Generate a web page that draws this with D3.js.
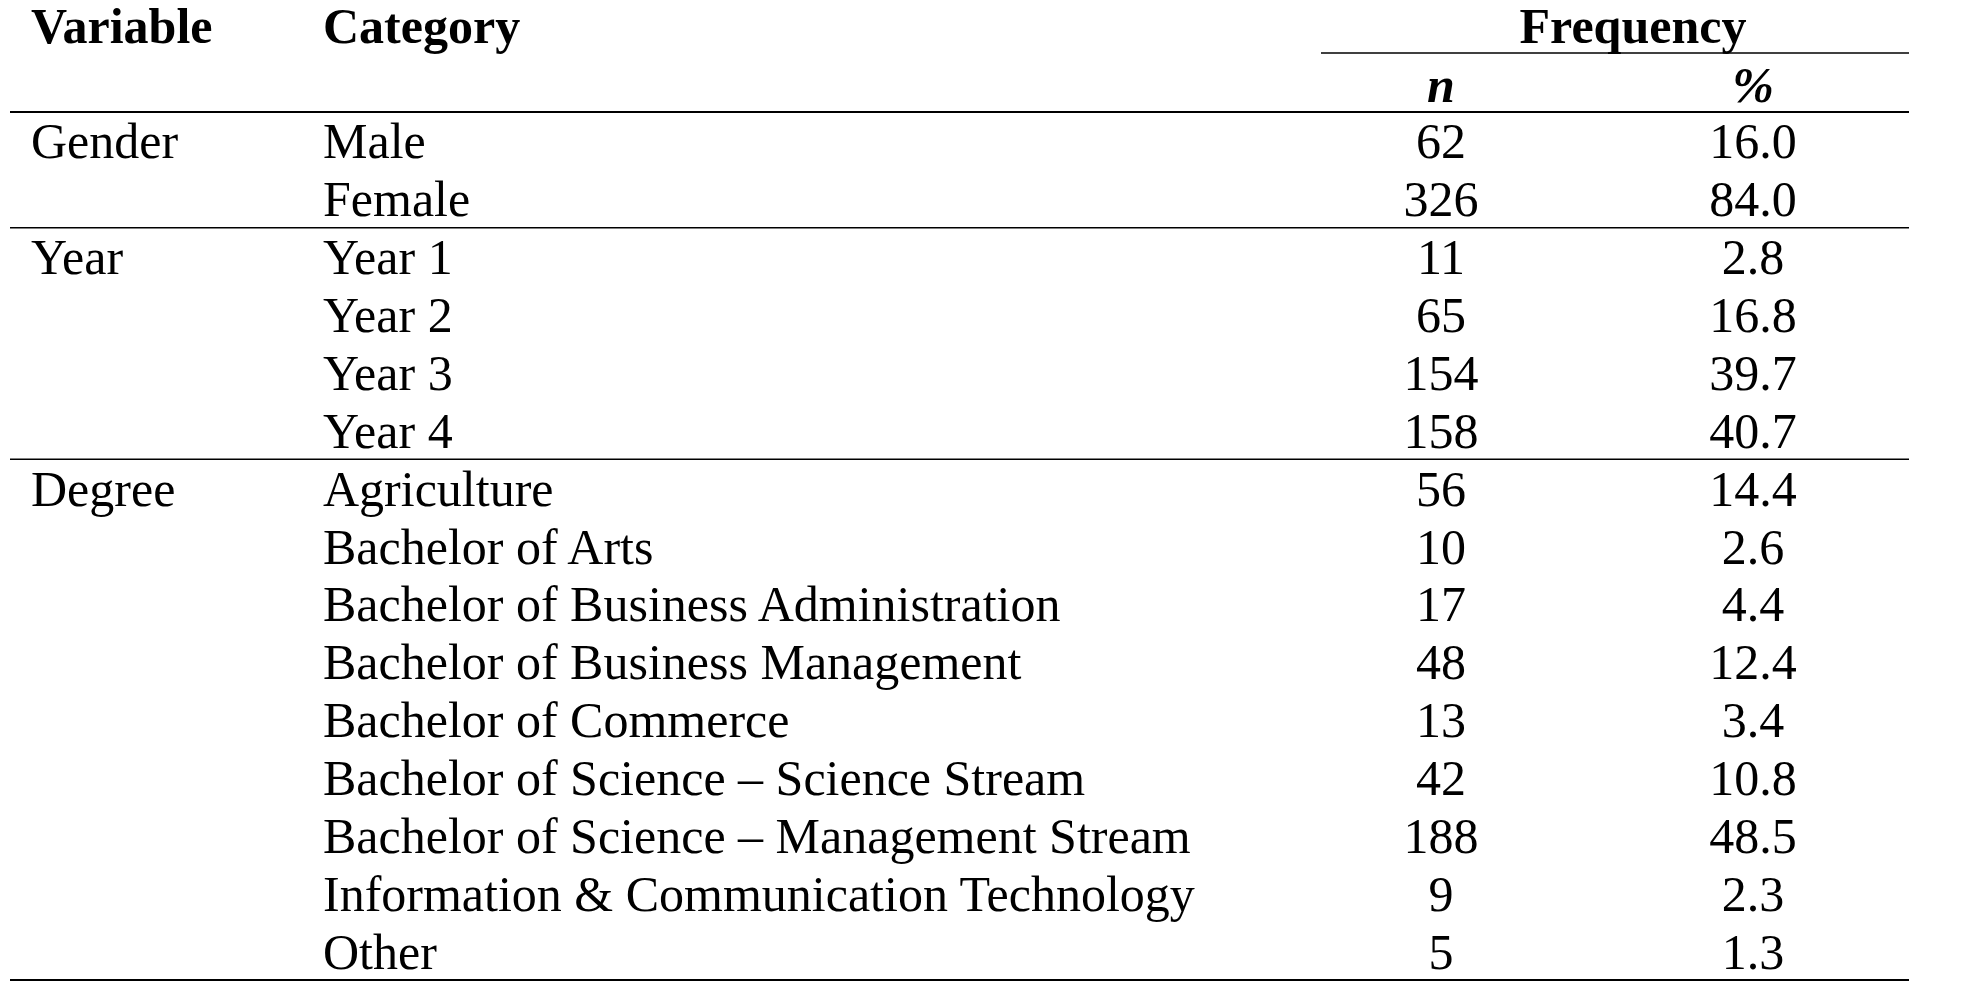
<!DOCTYPE html>
<html><head><meta charset="utf-8">
<script src="https://cdn.jsdelivr.net/npm/d3@7"></script>
<style>body{margin:0;background:#fff}text{font-family:"Liberation Serif","Times New Roman",serif;fill:#000}</style>
</head><body><div id="chart"></div>
<script>
var groups = ['Gender', 'Year', 'Degree']
var categories = [
  ['Male', 'Female'],
  ['Year 1', 'Year 2', 'Year 3', 'Year 4'],
  ['Agriculture', 'Bachelor of Arts', 'Bachelor of Business Administration',
   'Bachelor of Business Management', 'Bachelor of Commerce',
   'Bachelor of Science \u2013 Science Stream', 'Bachelor of Science \u2013 Management Stream',
   'Information & Communication Technology', 'Other']
]
var counts = [[62, 326], [11, 65, 154, 158], [56, 10, 17, 48, 13, 42, 188, 9, 5]]
var percents = [['16.0', '84.0'], ['2.8', '16.8', '39.7', '40.7'],
  ['14.4', '2.6', '4.4', '12.4', '3.4', '10.8', '48.5', '2.3', '1.3']]

var width = 1969, height = 993
var svg = d3.select('#chart').append('svg').attr('width', width).attr('height', height)

// flatten rows
var rows = []
groups.forEach(function (g, gi) {
  categories[gi].forEach(function (c, ci) {
    rows.push({group: ci == 0 ? g : '', cat: c, n: counts[gi][ci], p: percents[gi][ci], first: ci == 0 && gi > 0})
  })
})

var y = d3.scaleLinear().domain([0, rows.length]).range([112, 980])
var fs = 50
var left = 10, right = 1909
var xVar = 31, xCat = 323, xN = 1441, xP = 1753

// header
svg.append('text').attr('x', xVar).attr('y', 25).attr('dy', '0.35em').attr('font-weight', 'bold').attr('font-size', fs).text('Variable')
svg.append('text').attr('x', xCat).attr('y', 25).attr('dy', '0.35em').attr('font-weight', 'bold').attr('font-size', fs).text('Category')
svg.append('text').attr('x', 1633).attr('y', 25).attr('dy', '0.35em').attr('font-weight', 'bold').attr('font-size', fs).attr('text-anchor', 'middle').text('Frequency')
svg.append('text').attr('x', xN).attr('y', 84).attr('dy', '0.35em').attr('font-weight', 'bold').attr('font-style', 'italic').attr('font-size', fs).attr('text-anchor', 'middle').text('n')
svg.append('text').attr('x', xP).attr('y', 84).attr('dy', '0.35em').attr('font-weight', 'bold').attr('font-style', 'italic').attr('font-size', fs).attr('text-anchor', 'middle').text('%')

function hline(x1, x2, yy, w) {
  svg.append('line').attr('x1', x1).attr('x2', x2).attr('y1', yy).attr('y2', yy).attr('stroke', '#000').attr('stroke-width', w)
}
hline(1321, right, 53, 1.5)
hline(left, right, 112, 2)

var g = svg.selectAll('g.row').data(rows).enter().append('g').attr('class', 'row')
  .attr('transform', function (d, i) { return 'translate(0,' + (y(i) + y(i + 1)) / 2 + ')' })
g.append('text').attr('x', xVar).attr('dy', '0.35em').attr('font-size', fs).text(function (d) { return d.group })
g.append('text').attr('x', xCat).attr('dy', '0.35em').attr('font-size', fs).text(function (d) { return d.cat })
g.append('text').attr('x', xN).attr('dy', '0.35em').attr('font-size', fs).attr('text-anchor', 'middle').text(function (d) { return d.n })
g.append('text').attr('x', xP).attr('dy', '0.35em').attr('font-size', fs).attr('text-anchor', 'middle').text(function (d) { return d.p })

rows.forEach(function (d, i) { if (d.first) hline(left, right, y(i), 1.5) })
hline(left, right, 980, 2)
</script></body></html>
